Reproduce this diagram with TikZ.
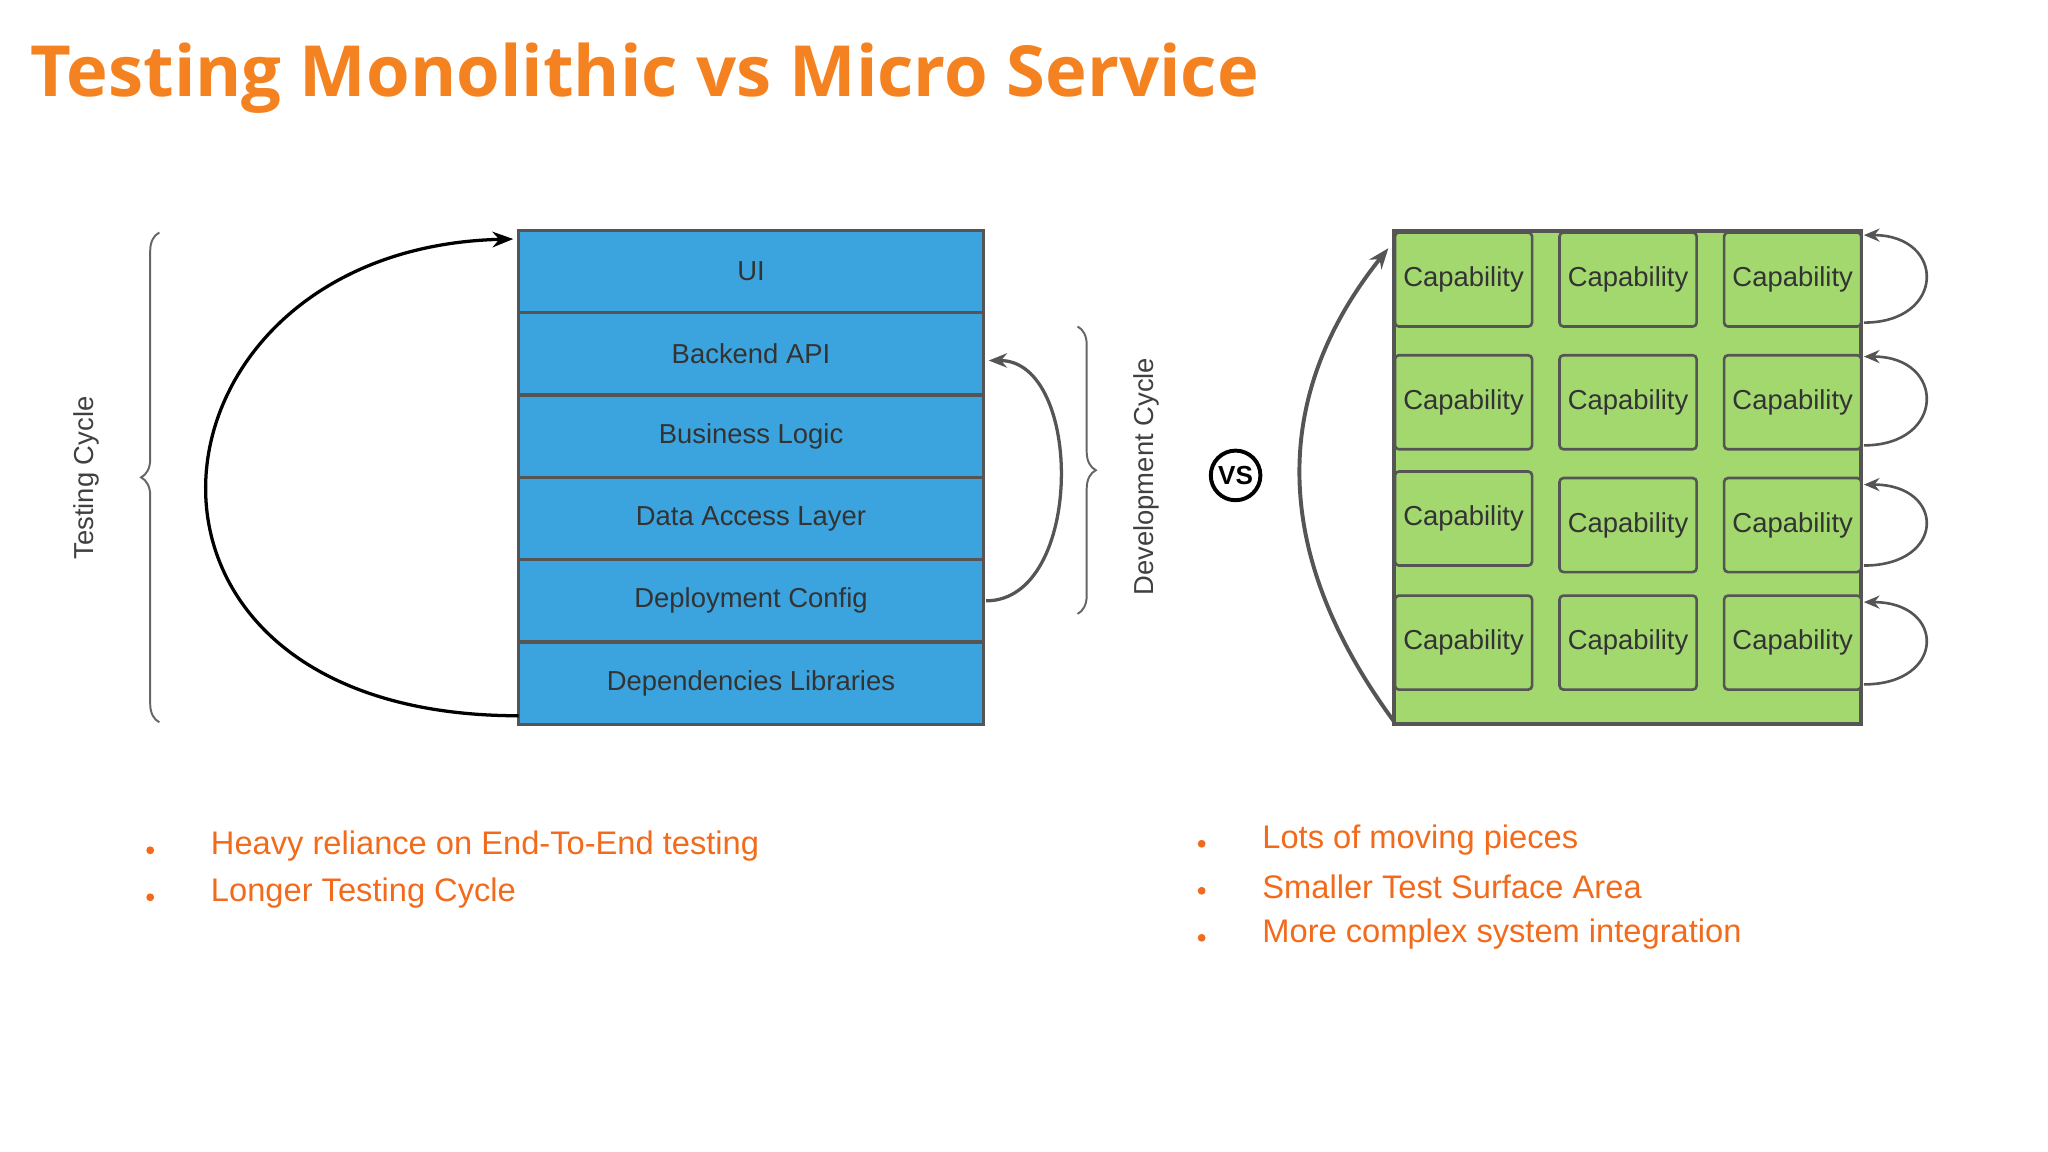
\documentclass[tikz,border=0pt]{standalone}
\usepackage{fontspec}
\setmainfont{Liberation Sans}
\newfontfamily\titlefont{Open Sans}
\usetikzlibrary{decorations.pathreplacing,arrows.meta}
\definecolor{org}{HTML}{F58220}
\definecolor{borg}{HTML}{F26B1D}
\definecolor{blu}{HTML}{3BA4DE}
\definecolor{grn}{HTML}{A3D86E}
\definecolor{dg}{HTML}{555555}
\begin{document}
\begin{tikzpicture}[x=1pt,y=-1pt,
 layer/.style={draw=dg,line width=2.5pt,fill=blu,minimum width=356pt,minimum height=63pt,font=\fontsize{21}{24}\selectfont,text=black!80,inner sep=0pt},
 capb/.style={draw=dg,line width=2pt,fill=grn,rounded corners=3pt,minimum width=105pt,inner sep=0pt,font=\fontsize{21}{24}\selectfont,text=black!80},
 brace/.style={draw=black!60,line width=1.5pt},
 bul/.style={anchor=west,text=borg,font=\fontsize{25}{28}\selectfont},
 dot/.style={circle,fill=borg,inner sep=0pt,minimum size=6pt},
 loopa/.style={draw=dg,line width=2pt,-{Stealth[length=12pt,width=10pt]}}]
\useasboundingbox (0,0) rectangle (1568,882);
\node[anchor=west,text=org,font=\titlefont\bfseries\fontsize{54}{60}\selectfont] (title) at (20,60) {Testing Monolithic vs Micro Service};
% stack
\foreach \t/\y [count=\i] in {UI/208,Backend API/271,Business Logic/334,Data Access Layer/397,Deployment Config/460,Dependencies Libraries/523}
  \node[layer] (L\i) at (575,\y) {\t};
% testing cycle
\draw[brace,decorate,decoration={brace,amplitude=14pt}] (122,553) -- (122,178);
\node[rotate=90,font=\fontsize{21}{24}\selectfont,text=black!75] (tc) at (66,366) {Testing Cycle};
\coordinate (ts) at (397,548);
\coordinate (te) at (393,183);
\draw[line width=2.5pt,-{Stealth[length=16pt,width=12pt]}] (ts) .. controls (60,548) and (100,190) .. (te);
% development cycle
\draw[brace,decorate,decoration={brace,amplitude=14pt}] (825,250) -- (825,470);
\node[rotate=90,font=\fontsize{21}{24}\selectfont,text=black!75] (dc) at (878,365) {Development Cycle};
\coordinate (ds) at (755,460);
\coordinate (de) at (757,276);
\draw[draw=dg,line width=2.5pt,-{Stealth[length=14pt,width=11pt]}] (ds) .. controls (830,460) and (830,276) .. (de);
% vs
\node[circle,draw=black,line width=3pt,minimum size=38pt,inner sep=0pt,font=\bfseries\fontsize{20}{22}\selectfont] (vs) at (946,364) {VS};
% grid
\node[draw=dg,line width=3pt,fill=grn,minimum width=358pt,minimum height=377pt,inner sep=0pt] (G) at (1246,365.5) {};
\foreach \r/\ya/\yb/\yc in {1/214/214/214,2/308/308/308,3/397/402/402,4/492/492/492}{
  \node[capb,minimum height=72pt] (C\r a) at (1120.5,\ya) {Capability};
  \node[capb,minimum height=72pt] (C\r b) at (1246.5,\yb) {Capability};
  \node[capb,minimum height=72pt] (C\r c) at (1372.5,\yc) {Capability};
}
\foreach \ya/\yb in {247/180,341/273,433/371,524/461}{
  \coordinate (la) at (1427,\ya); \coordinate (lb) at (1427,\yb);
  \draw[loopa] (la) .. controls (1490,\ya) and (1490,\yb) .. (lb);
}
\coordinate (gs) at (1067,552);
\coordinate (ge) at (1063,190);
\draw[draw=dg,line width=3pt,-{Stealth[length=16pt,width=12pt]}] (gs) .. controls (970,420) and (975,300) .. (ge);
% bullets
\node[dot] (b1) at (115,651) {}; \node[bul] (t1) at (158,648) {Heavy reliance on End-To-End testing};
\node[dot] (b2) at (115,687) {}; \node[bul] (t2) at (158,684) {Longer Testing Cycle};
\node[dot] (b3) at (920,646) {}; \node[bul] (t3) at (963,643) {Lots of moving pieces};
\node[dot] (b4) at (920,682) {}; \node[bul] (t4) at (963,679) {Smaller Test Surface Area};
\node[dot] (b5) at (920,718) {}; \node[bul] (t5) at (963,715) {More complex system integration};
\end{tikzpicture}
\end{document}
